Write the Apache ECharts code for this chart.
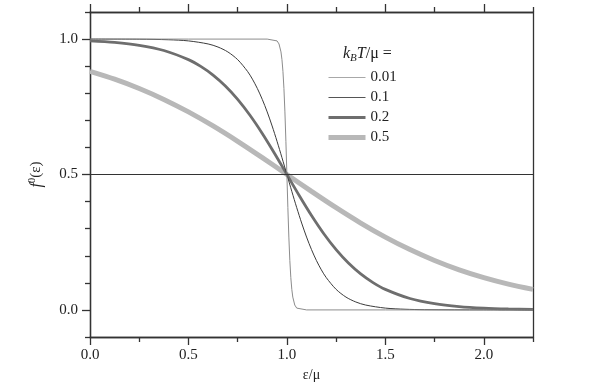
<!DOCTYPE html>
<html><head><meta charset="utf-8">
<script src="https://cdn.jsdelivr.net/npm/echarts@6/dist/echarts.min.js"></script>
<style>html,body{margin:0;padding:0;background:#fff}#c{width:600px;height:392px}</style>
</head><body><div id="c"></div>
<script>
const seriesNames = ['0.01', '0.1', '0.2', '0.5'];

const x001 = [0, 0.5, 0.9, 0.95, 0.96, 0.97, 0.975, 0.98, 0.985, 0.99, 0.995, 1.0, 1.005, 1.01, 1.015, 1.02, 1.025, 1.03, 1.04, 1.05, 1.1, 1.5, 2.25];
const y001 = [1.0, 1.0, 1.0, 0.9933, 0.982, 0.9526, 0.9241, 0.8808, 0.8176, 0.7311, 0.6225, 0.5, 0.3775, 0.2689, 0.1824, 0.1192, 0.0759, 0.0474, 0.018, 0.0067, 0.0, 0.0, 0.0];

const x01 = [0, 0.25, 0.4, 0.5, 0.6, 0.65, 0.7, 0.75, 0.8, 0.825, 0.85, 0.875, 0.9, 0.925, 0.95, 0.975, 1.0, 1.025, 1.05, 1.075, 1.1, 1.125, 1.15, 1.175, 1.2, 1.25, 1.3, 1.35, 1.4, 1.5, 1.6, 1.7, 2.0, 2.25];
const y01 = [1.0, 0.9995, 0.9975, 0.9933, 0.982, 0.9707, 0.9526, 0.9241, 0.8808, 0.852, 0.8176, 0.7773, 0.7311, 0.6792, 0.6225, 0.5622, 0.5, 0.4378, 0.3775, 0.3208, 0.2689, 0.2227, 0.1824, 0.148, 0.1192, 0.0759, 0.0474, 0.0293, 0.018, 0.0067, 0.0025, 0.0009, 0.0001, 0.0];

const x02 = [0, 0.125, 0.25, 0.375, 0.5, 0.5625, 0.625, 0.6875, 0.75, 0.8125, 0.875, 0.9375, 1.0, 1.0625, 1.125, 1.1875, 1.25, 1.3125, 1.375, 1.4375, 1.5, 1.625, 1.75, 1.875, 2.0, 2.125, 2.25];
const y02 = [0.9933, 0.9876, 0.977, 0.9579, 0.9241, 0.8991, 0.867, 0.8267, 0.7773, 0.7186, 0.6514, 0.5775, 0.5, 0.4225, 0.3486, 0.2814, 0.2227, 0.1733, 0.133, 0.1009, 0.0759, 0.0421, 0.023, 0.0124, 0.0067, 0.0036, 0.0019];

const x05 = [0, 0.125, 0.25, 0.375, 0.5, 0.625, 0.75, 0.875, 1.0, 1.125, 1.25, 1.375, 1.5, 1.625, 1.75, 1.875, 2.0, 2.125, 2.25];
const y05 = [0.8808, 0.852, 0.8176, 0.7773, 0.7311, 0.6792, 0.6225, 0.5622, 0.5, 0.4378, 0.3775, 0.3208, 0.2689, 0.2227, 0.1824, 0.148, 0.1192, 0.0953, 0.0759];

const xMajorTicks = [0, 0.5, 1.0, 1.5, 2.0];
const xMinorTicks = [0.25, 0.75, 1.25, 1.75, 2.25];
const yMajorTicks = [0, 0.5, 1.0];
const yMinorTicks = [-0.1, 0.1, 0.2, 0.3, 0.4, 0.6, 0.7, 0.8, 0.9, 1.1];
const refLineY = 0.5;

const font = "'Liberation Serif', 'DejaVu Serif', serif";
const axisColor = '#333';

function pairs(xs, ys) { return xs.map((x, i) => [x, ys[i]]); }

function xAx(pos, ticks, len, labels, extra) {
  return Object.assign({
    type: 'value', position: pos, min: 0, max: 2.25,
    axisLine: { show: true, onZero: false, lineStyle: { color: axisColor, width: 1.3 } },
    axisTick: { show: true, inside: false, length: len, customValues: ticks, lineStyle: { color: axisColor, width: 1.3 } },
    axisLabel: labels ? { show: true, customValues: ticks, formatter: v => v.toFixed(1), color: '#222', fontFamily: font, fontSize: 15, margin: 11 } : { show: false },
    splitLine: { show: false }
  }, extra || {});
}
function yAx(pos, ticks, len, labels, extra) {
  return Object.assign({
    type: 'value', position: pos, min: -0.1, max: 1.1,
    axisLine: { show: true, onZero: false, lineStyle: { color: axisColor, width: 1.3 } },
    axisTick: { show: true, inside: false, length: len, customValues: ticks, lineStyle: { color: axisColor, width: 1.3 } },
    axisLabel: labels ? { show: true, customValues: ticks, formatter: v => v.toFixed(1), color: '#222', fontFamily: font, fontSize: 15, margin: 12 } : { show: false },
    splitLine: { show: false }
  }, extra || {});
}

const styles = {
  '0.01': { color: '#8c8c8c', legend: '#a8a8a8', width: 1, smooth: false },
  '0.1': { color: '#3c3c3c', legend: '#555555', width: 1, smooth: 0.3 },
  '0.2': { color: '#6e6e6e', legend: '#6e6e6e', width: 2.8, smooth: 0.3 },
  '0.5': { color: '#b8b8b8', legend: '#b8b8b8', width: 5, smooth: 0.3 }
};
const dataMap = { '0.01': pairs(x001, y001), '0.1': pairs(x01, y01), '0.2': pairs(x02, y02), '0.5': pairs(x05, y05) };

const drawOrder = ['0.5', '0.2', '0.1', '0.01'];
const series = drawOrder.map(n => ({
  name: n, type: 'line', xAxisIndex: 0, yAxisIndex: 0,
  data: dataMap[n], symbol: 'none', smooth: styles[n].smooth,
  lineStyle: { color: styles[n].color, width: styles[n].width },
  itemStyle: { color: styles[n].color },
  emphasis: { disabled: true }, silent: true, animation: false
}));
series.push({
  type: 'line', data: [], xAxisIndex: 0, yAxisIndex: 0, silent: true, animation: false,
  markLine: { silent: true, symbol: 'none', label: { show: false }, animation: false,
    lineStyle: { color: '#333', width: 1, type: 'solid' }, data: [{ yAxis: refLineY }] }
});

const chart = echarts.init(document.getElementById('c'), null, { renderer: 'canvas' });
chart.setOption({
  animation: false,
  backgroundColor: '#fff',
  grid: { left: 90, right: 67, top: 12, bottom: 55, show: false },
  title: {
    text: '{i|k}{s|B}{i|T}/μ =', left: 338, top: 39,
    textStyle: { rich: {
      i: { fontFamily: font, fontStyle: 'italic', fontSize: 16, color: '#222' },
      s: { fontFamily: font, fontStyle: 'italic', fontSize: 11, color: '#222', padding: [9, 0, 0, 0] }
    }, fontFamily: font, fontSize: 16, color: '#222', fontWeight: 'normal' }
  },
  legend: {
    orient: 'vertical', left: 321, top: 65, itemWidth: 37, itemHeight: 14, itemGap: 5, itemTextGap: 7,
    textStyle: { fontFamily: font, fontSize: 15, color: '#222' },
    data: seriesNames.map(n => ({ name: n, itemStyle: { opacity: 0 }, lineStyle: { width: styles[n].width, color: styles[n].legend, opacity: 1 } })),
    selectedMode: false
  },
  xAxis: [
    xAx('bottom', xMajorTicks, 8, true, { name: 'ε/μ', nameLocation: 'middle', nameGap: 31,
      nameTextStyle: { fontFamily: font, fontSize: 14, color: '#222' } }),
    xAx('bottom', xMinorTicks, 5, false),
    xAx('top', xMajorTicks, 8, false),
    xAx('top', xMinorTicks, 5, false)
  ],
  yAxis: [
    yAx('left', yMajorTicks, 8, true, { name: '{i|f}{s|0}{n|(ε)}', nameLocation: 'middle', nameGap: 44, nameRotate: 90,
      nameTextStyle: { fontFamily: font, fontSize: 15, color: '#222', rich: {
        i: { fontFamily: font, fontStyle: 'italic', fontSize: 16, color: '#222' },
        s: { fontFamily: font, fontSize: 11, color: '#222', padding: [0, 0, 8, 0] },
        n: { fontFamily: font, fontSize: 15, color: '#222' }
      } } }),
    yAx('left', yMinorTicks, 5, false),
    yAx('right', [], 0, false, { axisTick: { show: false } })
  ],
  series: series
});
</script></body></html>
